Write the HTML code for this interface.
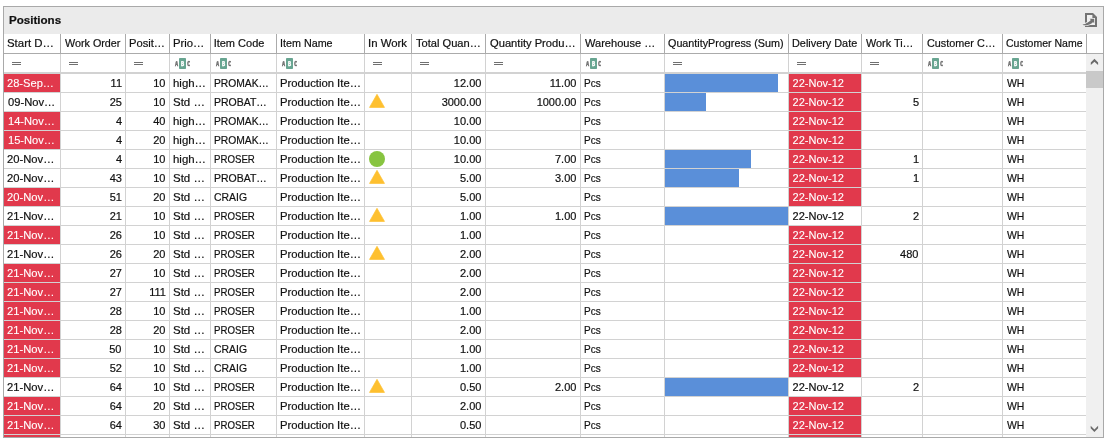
<!DOCTYPE html><html><head><meta charset="utf-8"><title>Positions</title><style>
html,body{margin:0;padding:0;background:#fff;}
body{width:1108px;height:440px;position:relative;overflow:hidden;font-family:"Liberation Sans",sans-serif;font-size:11px;color:#111;-webkit-text-stroke:0.2px currentColor;}
div{position:absolute;box-sizing:border-box;white-space:nowrap;}
.t{height:18px;line-height:18px;transform-origin:0 0;}
.h{height:19px;line-height:19px;top:34px;transform-origin:0 0;}
.r{text-align:right;}
.w{color:#fff;-webkit-text-stroke:0.1px #fff;}
svg{position:absolute;overflow:visible;}
</style></head><body>
<div style="left:3px;top:6px;width:1101px;height:432px;border:1px solid #a9a9a9;background:#fff"></div>
<div style="left:4px;top:7px;width:1099px;height:27px;background:#ebebeb"></div>
<div style="left:9.1px;top:12px;height:16px;line-height:16px;font-weight:bold;transform-origin:0 0;transform:scaleX(1.053)">Positions</div>
<svg style="left:1082px;top:12px" width="16" height="16" viewBox="0 0 16 16"><path d="M5 3H10.5V6H13V13H5Z" fill="#f1f1f1"/><path fill-rule="evenodd" d="M3 1H11L15 5V15H3Z M5 3H10.4V6.1H13V13H5Z" fill="#737373"/><path d="M0.7 12.5C4 11.9 7 10 8.9 7.9L7.6 6.8H12.2V11.5L11.1 10C9.4 12 6 13.8 0.7 13Z" fill="#737373" stroke="#f3f3f3" stroke-width="1.3" stroke-linejoin="round" paint-order="stroke"/></svg>
<div style="left:60px;top:34px;width:1px;height:19px;background:#ababab"></div>
<div style="left:125px;top:34px;width:1px;height:19px;background:#ababab"></div>
<div style="left:169px;top:34px;width:1px;height:19px;background:#ababab"></div>
<div style="left:210px;top:34px;width:1px;height:19px;background:#ababab"></div>
<div style="left:276px;top:34px;width:1px;height:19px;background:#ababab"></div>
<div style="left:364px;top:34px;width:1px;height:19px;background:#ababab"></div>
<div style="left:411px;top:34px;width:1px;height:19px;background:#ababab"></div>
<div style="left:485px;top:34px;width:1px;height:19px;background:#ababab"></div>
<div style="left:580px;top:34px;width:1px;height:19px;background:#ababab"></div>
<div style="left:664px;top:34px;width:1px;height:19px;background:#ababab"></div>
<div style="left:788px;top:34px;width:1px;height:19px;background:#ababab"></div>
<div style="left:861px;top:34px;width:1px;height:19px;background:#ababab"></div>
<div style="left:922px;top:34px;width:1px;height:19px;background:#ababab"></div>
<div style="left:1002px;top:34px;width:1px;height:19px;background:#ababab"></div>
<div style="left:1086px;top:34px;width:1px;height:19px;background:#ababab"></div>
<div style="left:4px;top:53px;width:1099px;height:1px;background:#ababab"></div>
<div class="h" style="left:6.75px;transform:scaleX(1.0379);">Start D…</div>
<div class="h" style="left:64.66px;transform:scaleX(0.9785);">Work Order</div>
<div class="h" style="left:128.60px;transform:scaleX(1.0162);">Posit…</div>
<div class="h" style="left:172.68px;transform:scaleX(1.0288);">Prio…</div>
<div class="h" style="left:213.64px;">Item Code</div>
<div class="h" style="left:279.52px;transform:scaleX(0.9779);">Item Name</div>
<div class="h" style="left:367.84px;transform:scaleX(1.0356);">In Work</div>
<div class="h" style="left:416.48px;transform:scaleX(1.0086);">Total Quan…</div>
<div class="h" style="left:489.59px;transform:scaleX(1.0146);">Quantity Produ…</div>
<div class="h" style="left:584.88px;transform:scaleX(1.0059);">Warehouse …</div>
<div class="h" style="left:668.43px;transform:scaleX(0.9792);">QuantityProgress (Sum)</div>
<div class="h" style="left:792.15px;transform:scaleX(0.9875);">Delivery Date</div>
<div class="h" style="left:866.35px;transform:scaleX(0.9874);">Work Ti…</div>
<div class="h" style="left:926.80px;transform:scaleX(0.9835);">Customer C…</div>
<div class="h" style="left:1006.20px;transform:scaleX(0.9550);">Customer Name</div>
<div style="left:12px;top:62px;width:9px;height:1px;background:#707070"></div><div style="left:12px;top:64px;width:9px;height:1px;background:#707070"></div>
<div style="left:69px;top:62px;width:9px;height:1px;background:#707070"></div><div style="left:69px;top:64px;width:9px;height:1px;background:#707070"></div>
<div style="left:134px;top:62px;width:9px;height:1px;background:#707070"></div><div style="left:134px;top:64px;width:9px;height:1px;background:#707070"></div>
<svg style="left:174px;top:58px" width="17" height="11" viewBox="0 0 17 11" font-family="DejaVu Sans Mono,Liberation Mono,monospace" font-size="6.7" font-weight="bold" stroke-width="0.45" stroke-linejoin="miter"><rect x="5" y="0" width="7" height="11" rx="0.8" fill="#68a591"/><text transform="translate(0.95 7.95) scale(0.78 1)" fill="#6e6e6e" stroke="#6e6e6e">A</text><text transform="translate(6.95 7.95) scale(0.78 1)" fill="#fff" stroke="#fff">B</text><text transform="translate(12.95 7.95) scale(0.78 1)" fill="#6e6e6e" stroke="#6e6e6e">C</text></svg>
<svg style="left:215px;top:58px" width="17" height="11" viewBox="0 0 17 11" font-family="DejaVu Sans Mono,Liberation Mono,monospace" font-size="6.7" font-weight="bold" stroke-width="0.45" stroke-linejoin="miter"><rect x="5" y="0" width="7" height="11" rx="0.8" fill="#68a591"/><text transform="translate(0.95 7.95) scale(0.78 1)" fill="#6e6e6e" stroke="#6e6e6e">A</text><text transform="translate(6.95 7.95) scale(0.78 1)" fill="#fff" stroke="#fff">B</text><text transform="translate(12.95 7.95) scale(0.78 1)" fill="#6e6e6e" stroke="#6e6e6e">C</text></svg>
<svg style="left:281px;top:58px" width="17" height="11" viewBox="0 0 17 11" font-family="DejaVu Sans Mono,Liberation Mono,monospace" font-size="6.7" font-weight="bold" stroke-width="0.45" stroke-linejoin="miter"><rect x="5" y="0" width="7" height="11" rx="0.8" fill="#68a591"/><text transform="translate(0.95 7.95) scale(0.78 1)" fill="#6e6e6e" stroke="#6e6e6e">A</text><text transform="translate(6.95 7.95) scale(0.78 1)" fill="#fff" stroke="#fff">B</text><text transform="translate(12.95 7.95) scale(0.78 1)" fill="#6e6e6e" stroke="#6e6e6e">C</text></svg>
<div style="left:373px;top:62px;width:9px;height:1px;background:#707070"></div><div style="left:373px;top:64px;width:9px;height:1px;background:#707070"></div>
<div style="left:420px;top:62px;width:9px;height:1px;background:#707070"></div><div style="left:420px;top:64px;width:9px;height:1px;background:#707070"></div>
<div style="left:494px;top:62px;width:9px;height:1px;background:#707070"></div><div style="left:494px;top:64px;width:9px;height:1px;background:#707070"></div>
<svg style="left:585px;top:58px" width="17" height="11" viewBox="0 0 17 11" font-family="DejaVu Sans Mono,Liberation Mono,monospace" font-size="6.7" font-weight="bold" stroke-width="0.45" stroke-linejoin="miter"><rect x="5" y="0" width="7" height="11" rx="0.8" fill="#68a591"/><text transform="translate(0.95 7.95) scale(0.78 1)" fill="#6e6e6e" stroke="#6e6e6e">A</text><text transform="translate(6.95 7.95) scale(0.78 1)" fill="#fff" stroke="#fff">B</text><text transform="translate(12.95 7.95) scale(0.78 1)" fill="#6e6e6e" stroke="#6e6e6e">C</text></svg>
<div style="left:673px;top:62px;width:9px;height:1px;background:#707070"></div><div style="left:673px;top:64px;width:9px;height:1px;background:#707070"></div>
<div style="left:797px;top:62px;width:9px;height:1px;background:#707070"></div><div style="left:797px;top:64px;width:9px;height:1px;background:#707070"></div>
<div style="left:870px;top:62px;width:9px;height:1px;background:#707070"></div><div style="left:870px;top:64px;width:9px;height:1px;background:#707070"></div>
<svg style="left:927px;top:58px" width="17" height="11" viewBox="0 0 17 11" font-family="DejaVu Sans Mono,Liberation Mono,monospace" font-size="6.7" font-weight="bold" stroke-width="0.45" stroke-linejoin="miter"><rect x="5" y="0" width="7" height="11" rx="0.8" fill="#68a591"/><text transform="translate(0.95 7.95) scale(0.78 1)" fill="#6e6e6e" stroke="#6e6e6e">A</text><text transform="translate(6.95 7.95) scale(0.78 1)" fill="#fff" stroke="#fff">B</text><text transform="translate(12.95 7.95) scale(0.78 1)" fill="#6e6e6e" stroke="#6e6e6e">C</text></svg>
<svg style="left:1007px;top:58px" width="17" height="11" viewBox="0 0 17 11" font-family="DejaVu Sans Mono,Liberation Mono,monospace" font-size="6.7" font-weight="bold" stroke-width="0.45" stroke-linejoin="miter"><rect x="5" y="0" width="7" height="11" rx="0.8" fill="#68a591"/><text transform="translate(0.95 7.95) scale(0.78 1)" fill="#6e6e6e" stroke="#6e6e6e">A</text><text transform="translate(6.95 7.95) scale(0.78 1)" fill="#fff" stroke="#fff">B</text><text transform="translate(12.95 7.95) scale(0.78 1)" fill="#6e6e6e" stroke="#6e6e6e">C</text></svg>
<div style="left:4px;top:72px;width:1082px;height:2px;background:#d2d2d2"></div>
<div style="left:60px;top:54px;width:1px;height:383px;background:#d2d2d2"></div>
<div style="left:125px;top:54px;width:1px;height:383px;background:#d2d2d2"></div>
<div style="left:169px;top:54px;width:1px;height:383px;background:#d2d2d2"></div>
<div style="left:210px;top:54px;width:1px;height:383px;background:#d2d2d2"></div>
<div style="left:276px;top:54px;width:1px;height:383px;background:#d2d2d2"></div>
<div style="left:364px;top:54px;width:1px;height:383px;background:#d2d2d2"></div>
<div style="left:411px;top:54px;width:1px;height:383px;background:#d2d2d2"></div>
<div style="left:485px;top:54px;width:1px;height:383px;background:#d2d2d2"></div>
<div style="left:580px;top:54px;width:1px;height:383px;background:#d2d2d2"></div>
<div style="left:664px;top:54px;width:1px;height:383px;background:#d2d2d2"></div>
<div style="left:788px;top:54px;width:1px;height:383px;background:#d2d2d2"></div>
<div style="left:861px;top:54px;width:1px;height:383px;background:#d2d2d2"></div>
<div style="left:922px;top:54px;width:1px;height:383px;background:#d2d2d2"></div>
<div style="left:1002px;top:54px;width:1px;height:383px;background:#d2d2d2"></div>
<div style="left:4px;top:92px;width:1082px;height:1px;background:#d2d2d2"></div>
<div style="left:4px;top:74px;width:56px;height:18px;background:#e1394c"></div>
<div style="left:789px;top:74px;width:72px;height:18px;background:#e1394c"></div>
<div style="left:665px;top:74px;width:113px;height:18px;background:#5a8fd9"></div>
<div class="t w" style="left:7.31px;transform:scaleX(1.0109);top:74px">28-Sep…</div>
<div class="t r" style="left:61px;top:74px;width:61px">11</div>
<div class="t r" style="left:126px;top:74px;width:39.4px">10</div>
<div class="t " style="left:172.73px;transform:scaleX(1.0387);top:74px">high…</div>
<div class="t " style="left:213.73px;transform:scaleX(0.9346);top:74px">PROMAK…</div>
<div class="t " style="left:280.05px;transform:scaleX(1.0263);top:74px">Production Ite…</div>
<div class="t r" style="left:412px;top:74px;width:69.4px">12.00</div>
<div class="t r" style="left:486px;top:74px;width:90.4px">11.00</div>
<div class="t " style="left:583.83px;transform:scaleX(0.9094);top:74px">Pcs</div>
<div class="t w" style="left:792.61px;top:74px">22-Nov-12</div>
<div class="t " style="left:1006.89px;transform:scaleX(0.9501);top:74px">WH</div>
<div style="left:4px;top:111px;width:1082px;height:1px;background:#d2d2d2"></div>
<div style="left:789px;top:93px;width:72px;height:18px;background:#e1394c"></div>
<div style="left:665px;top:93px;width:41px;height:18px;background:#5a8fd9"></div>
<div class="t " style="left:7.83px;transform:scaleX(1.0161);top:93px">09-Nov…</div>
<div class="t r" style="left:61px;top:93px;width:61px">25</div>
<div class="t r" style="left:126px;top:93px;width:39.4px">10</div>
<div class="t " style="left:172.76px;transform:scaleX(1.0433);top:93px">Std …</div>
<div class="t " style="left:213.68px;transform:scaleX(0.9526);top:93px">PROBAT…</div>
<div class="t " style="left:280.05px;transform:scaleX(1.0263);top:93px">Production Ite…</div>
<svg style="left:369px;top:94px" width="16" height="14" viewBox="0 0 16 14"><path d="M8 0.3L15.5 13.4H0.5Z" fill="#fec02f" stroke="#fec02f" stroke-width="0.7" stroke-linejoin="round"/></svg>
<div class="t r" style="left:412px;top:93px;width:69.4px">3000.00</div>
<div class="t r" style="left:486px;top:93px;width:90.4px">1000.00</div>
<div class="t " style="left:583.83px;transform:scaleX(0.9094);top:93px">Pcs</div>
<div class="t w" style="left:792.61px;top:93px">22-Nov-12</div>
<div class="t r" style="left:862px;top:93px;width:57px">5</div>
<div class="t " style="left:1006.89px;transform:scaleX(0.9501);top:93px">WH</div>
<div style="left:4px;top:130px;width:1082px;height:1px;background:#d2d2d2"></div>
<div style="left:4px;top:112px;width:56px;height:18px;background:#e1394c"></div>
<div style="left:789px;top:112px;width:72px;height:18px;background:#e1394c"></div>
<div class="t w" style="left:7.64px;transform:scaleX(1.0091);top:112px">14-Nov…</div>
<div class="t r" style="left:61px;top:112px;width:61px">4</div>
<div class="t r" style="left:126px;top:112px;width:39.4px">40</div>
<div class="t " style="left:172.73px;transform:scaleX(1.0387);top:112px">high…</div>
<div class="t " style="left:213.73px;transform:scaleX(0.9346);top:112px">PROMAK…</div>
<div class="t " style="left:280.05px;transform:scaleX(1.0263);top:112px">Production Ite…</div>
<div class="t r" style="left:412px;top:112px;width:69.4px">10.00</div>
<div class="t " style="left:583.83px;transform:scaleX(0.9094);top:112px">Pcs</div>
<div class="t w" style="left:792.61px;top:112px">22-Nov-12</div>
<div class="t " style="left:1006.89px;transform:scaleX(0.9501);top:112px">WH</div>
<div style="left:4px;top:149px;width:1082px;height:1px;background:#d2d2d2"></div>
<div style="left:4px;top:131px;width:56px;height:18px;background:#e1394c"></div>
<div style="left:789px;top:131px;width:72px;height:18px;background:#e1394c"></div>
<div class="t w" style="left:7.57px;transform:scaleX(1.0085);top:131px">15-Nov…</div>
<div class="t r" style="left:61px;top:131px;width:61px">4</div>
<div class="t r" style="left:126px;top:131px;width:39.4px">20</div>
<div class="t " style="left:172.73px;transform:scaleX(1.0387);top:131px">high…</div>
<div class="t " style="left:213.73px;transform:scaleX(0.9346);top:131px">PROMAK…</div>
<div class="t " style="left:280.05px;transform:scaleX(1.0263);top:131px">Production Ite…</div>
<div class="t r" style="left:412px;top:131px;width:69.4px">10.00</div>
<div class="t " style="left:583.83px;transform:scaleX(0.9094);top:131px">Pcs</div>
<div class="t w" style="left:792.61px;top:131px">22-Nov-12</div>
<div class="t " style="left:1006.89px;transform:scaleX(0.9501);top:131px">WH</div>
<div style="left:4px;top:168px;width:1082px;height:1px;background:#d2d2d2"></div>
<div style="left:789px;top:150px;width:72px;height:18px;background:#e1394c"></div>
<div style="left:665px;top:150px;width:86px;height:18px;background:#5a8fd9"></div>
<div class="t " style="left:7.12px;transform:scaleX(1.0194);top:150px">20-Nov…</div>
<div class="t r" style="left:61px;top:150px;width:61px">4</div>
<div class="t r" style="left:126px;top:150px;width:39.4px">10</div>
<div class="t " style="left:172.73px;transform:scaleX(1.0387);top:150px">high…</div>
<div class="t " style="left:213.91px;transform:scaleX(0.8786);top:150px">PROSER</div>
<div class="t " style="left:280.05px;transform:scaleX(1.0263);top:150px">Production Ite…</div>
<div style="left:369px;top:151px;width:16px;height:16px;border-radius:8px;background:#87c440"></div>
<div class="t r" style="left:412px;top:150px;width:69.4px">10.00</div>
<div class="t r" style="left:486px;top:150px;width:90.4px">7.00</div>
<div class="t " style="left:583.83px;transform:scaleX(0.9094);top:150px">Pcs</div>
<div class="t w" style="left:792.61px;top:150px">22-Nov-12</div>
<div class="t r" style="left:862px;top:150px;width:57px">1</div>
<div class="t " style="left:1006.89px;transform:scaleX(0.9501);top:150px">WH</div>
<div style="left:4px;top:187px;width:1082px;height:1px;background:#d2d2d2"></div>
<div style="left:789px;top:169px;width:72px;height:18px;background:#e1394c"></div>
<div style="left:665px;top:169px;width:74px;height:18px;background:#5a8fd9"></div>
<div class="t " style="left:7.12px;transform:scaleX(1.0194);top:169px">20-Nov…</div>
<div class="t r" style="left:61px;top:169px;width:61px">43</div>
<div class="t r" style="left:126px;top:169px;width:39.4px">10</div>
<div class="t " style="left:172.76px;transform:scaleX(1.0433);top:169px">Std …</div>
<div class="t " style="left:213.68px;transform:scaleX(0.9526);top:169px">PROBAT…</div>
<div class="t " style="left:280.05px;transform:scaleX(1.0263);top:169px">Production Ite…</div>
<svg style="left:369px;top:170px" width="16" height="14" viewBox="0 0 16 14"><path d="M8 0.3L15.5 13.4H0.5Z" fill="#fec02f" stroke="#fec02f" stroke-width="0.7" stroke-linejoin="round"/></svg>
<div class="t r" style="left:412px;top:169px;width:69.4px">5.00</div>
<div class="t r" style="left:486px;top:169px;width:90.4px">3.00</div>
<div class="t " style="left:583.83px;transform:scaleX(0.9094);top:169px">Pcs</div>
<div class="t w" style="left:792.61px;top:169px">22-Nov-12</div>
<div class="t r" style="left:862px;top:169px;width:57px">1</div>
<div class="t " style="left:1006.89px;transform:scaleX(0.9501);top:169px">WH</div>
<div style="left:4px;top:206px;width:1082px;height:1px;background:#d2d2d2"></div>
<div style="left:4px;top:188px;width:56px;height:18px;background:#e1394c"></div>
<div style="left:789px;top:188px;width:72px;height:18px;background:#e1394c"></div>
<div class="t w" style="left:7.12px;transform:scaleX(1.0194);top:188px">20-Nov…</div>
<div class="t r" style="left:61px;top:188px;width:61px">51</div>
<div class="t r" style="left:126px;top:188px;width:39.4px">20</div>
<div class="t " style="left:172.76px;transform:scaleX(1.0433);top:188px">Std …</div>
<div class="t " style="left:214.19px;transform:scaleX(0.9472);top:188px">CRAIG</div>
<div class="t " style="left:280.05px;transform:scaleX(1.0263);top:188px">Production Ite…</div>
<div class="t r" style="left:412px;top:188px;width:69.4px">5.00</div>
<div class="t " style="left:583.83px;transform:scaleX(0.9094);top:188px">Pcs</div>
<div class="t w" style="left:792.61px;top:188px">22-Nov-12</div>
<div class="t " style="left:1006.89px;transform:scaleX(0.9501);top:188px">WH</div>
<div style="left:4px;top:225px;width:1082px;height:1px;background:#d2d2d2"></div>
<div style="left:665px;top:207px;width:123px;height:18px;background:#5a8fd9"></div>
<div class="t " style="left:7.22px;transform:scaleX(1.0197);top:207px">21-Nov…</div>
<div class="t r" style="left:61px;top:207px;width:61px">21</div>
<div class="t r" style="left:126px;top:207px;width:39.4px">10</div>
<div class="t " style="left:172.76px;transform:scaleX(1.0433);top:207px">Std …</div>
<div class="t " style="left:213.91px;transform:scaleX(0.8786);top:207px">PROSER</div>
<div class="t " style="left:280.05px;transform:scaleX(1.0263);top:207px">Production Ite…</div>
<svg style="left:369px;top:208px" width="16" height="14" viewBox="0 0 16 14"><path d="M8 0.3L15.5 13.4H0.5Z" fill="#fec02f" stroke="#fec02f" stroke-width="0.7" stroke-linejoin="round"/></svg>
<div class="t r" style="left:412px;top:207px;width:69.4px">1.00</div>
<div class="t r" style="left:486px;top:207px;width:90.4px">1.00</div>
<div class="t " style="left:583.83px;transform:scaleX(0.9094);top:207px">Pcs</div>
<div class="t " style="left:792.61px;top:207px">22-Nov-12</div>
<div class="t r" style="left:862px;top:207px;width:57px">2</div>
<div class="t " style="left:1006.89px;transform:scaleX(0.9501);top:207px">WH</div>
<div style="left:4px;top:244px;width:1082px;height:1px;background:#d2d2d2"></div>
<div style="left:4px;top:226px;width:56px;height:18px;background:#e1394c"></div>
<div style="left:789px;top:226px;width:72px;height:18px;background:#e1394c"></div>
<div class="t w" style="left:7.22px;transform:scaleX(1.0197);top:226px">21-Nov…</div>
<div class="t r" style="left:61px;top:226px;width:61px">26</div>
<div class="t r" style="left:126px;top:226px;width:39.4px">10</div>
<div class="t " style="left:172.76px;transform:scaleX(1.0433);top:226px">Std …</div>
<div class="t " style="left:213.91px;transform:scaleX(0.8786);top:226px">PROSER</div>
<div class="t " style="left:280.05px;transform:scaleX(1.0263);top:226px">Production Ite…</div>
<div class="t r" style="left:412px;top:226px;width:69.4px">1.00</div>
<div class="t " style="left:583.83px;transform:scaleX(0.9094);top:226px">Pcs</div>
<div class="t w" style="left:792.61px;top:226px">22-Nov-12</div>
<div class="t " style="left:1006.89px;transform:scaleX(0.9501);top:226px">WH</div>
<div style="left:4px;top:263px;width:1082px;height:1px;background:#d2d2d2"></div>
<div style="left:789px;top:245px;width:72px;height:18px;background:#e1394c"></div>
<div class="t " style="left:7.22px;transform:scaleX(1.0197);top:245px">21-Nov…</div>
<div class="t r" style="left:61px;top:245px;width:61px">26</div>
<div class="t r" style="left:126px;top:245px;width:39.4px">20</div>
<div class="t " style="left:172.76px;transform:scaleX(1.0433);top:245px">Std …</div>
<div class="t " style="left:213.91px;transform:scaleX(0.8786);top:245px">PROSER</div>
<div class="t " style="left:280.05px;transform:scaleX(1.0263);top:245px">Production Ite…</div>
<svg style="left:369px;top:246px" width="16" height="14" viewBox="0 0 16 14"><path d="M8 0.3L15.5 13.4H0.5Z" fill="#fec02f" stroke="#fec02f" stroke-width="0.7" stroke-linejoin="round"/></svg>
<div class="t r" style="left:412px;top:245px;width:69.4px">2.00</div>
<div class="t " style="left:583.83px;transform:scaleX(0.9094);top:245px">Pcs</div>
<div class="t w" style="left:792.61px;top:245px">22-Nov-12</div>
<div class="t r" style="left:862px;top:245px;width:56.4px">480</div>
<div class="t " style="left:1006.89px;transform:scaleX(0.9501);top:245px">WH</div>
<div style="left:4px;top:282px;width:1082px;height:1px;background:#d2d2d2"></div>
<div style="left:4px;top:264px;width:56px;height:18px;background:#e1394c"></div>
<div style="left:789px;top:264px;width:72px;height:18px;background:#e1394c"></div>
<div class="t w" style="left:7.22px;transform:scaleX(1.0197);top:264px">21-Nov…</div>
<div class="t r" style="left:61px;top:264px;width:61px">27</div>
<div class="t r" style="left:126px;top:264px;width:39.4px">10</div>
<div class="t " style="left:172.76px;transform:scaleX(1.0433);top:264px">Std …</div>
<div class="t " style="left:213.91px;transform:scaleX(0.8786);top:264px">PROSER</div>
<div class="t " style="left:280.05px;transform:scaleX(1.0263);top:264px">Production Ite…</div>
<div class="t r" style="left:412px;top:264px;width:69.4px">2.00</div>
<div class="t " style="left:583.83px;transform:scaleX(0.9094);top:264px">Pcs</div>
<div class="t w" style="left:792.61px;top:264px">22-Nov-12</div>
<div class="t " style="left:1006.89px;transform:scaleX(0.9501);top:264px">WH</div>
<div style="left:4px;top:301px;width:1082px;height:1px;background:#d2d2d2"></div>
<div style="left:4px;top:283px;width:56px;height:18px;background:#e1394c"></div>
<div style="left:789px;top:283px;width:72px;height:18px;background:#e1394c"></div>
<div class="t w" style="left:7.22px;transform:scaleX(1.0197);top:283px">21-Nov…</div>
<div class="t r" style="left:61px;top:283px;width:61px">27</div>
<div class="t r" style="left:126px;top:283px;width:40px">111</div>
<div class="t " style="left:172.76px;transform:scaleX(1.0433);top:283px">Std …</div>
<div class="t " style="left:213.91px;transform:scaleX(0.8786);top:283px">PROSER</div>
<div class="t " style="left:280.05px;transform:scaleX(1.0263);top:283px">Production Ite…</div>
<div class="t r" style="left:412px;top:283px;width:69.4px">2.00</div>
<div class="t " style="left:583.83px;transform:scaleX(0.9094);top:283px">Pcs</div>
<div class="t w" style="left:792.61px;top:283px">22-Nov-12</div>
<div class="t " style="left:1006.89px;transform:scaleX(0.9501);top:283px">WH</div>
<div style="left:4px;top:320px;width:1082px;height:1px;background:#d2d2d2"></div>
<div style="left:4px;top:302px;width:56px;height:18px;background:#e1394c"></div>
<div style="left:789px;top:302px;width:72px;height:18px;background:#e1394c"></div>
<div class="t w" style="left:7.22px;transform:scaleX(1.0197);top:302px">21-Nov…</div>
<div class="t r" style="left:61px;top:302px;width:61px">28</div>
<div class="t r" style="left:126px;top:302px;width:39.4px">10</div>
<div class="t " style="left:172.76px;transform:scaleX(1.0433);top:302px">Std …</div>
<div class="t " style="left:213.91px;transform:scaleX(0.8786);top:302px">PROSER</div>
<div class="t " style="left:280.05px;transform:scaleX(1.0263);top:302px">Production Ite…</div>
<div class="t r" style="left:412px;top:302px;width:69.4px">1.00</div>
<div class="t " style="left:583.83px;transform:scaleX(0.9094);top:302px">Pcs</div>
<div class="t w" style="left:792.61px;top:302px">22-Nov-12</div>
<div class="t " style="left:1006.89px;transform:scaleX(0.9501);top:302px">WH</div>
<div style="left:4px;top:339px;width:1082px;height:1px;background:#d2d2d2"></div>
<div style="left:4px;top:321px;width:56px;height:18px;background:#e1394c"></div>
<div style="left:789px;top:321px;width:72px;height:18px;background:#e1394c"></div>
<div class="t w" style="left:7.22px;transform:scaleX(1.0197);top:321px">21-Nov…</div>
<div class="t r" style="left:61px;top:321px;width:61px">28</div>
<div class="t r" style="left:126px;top:321px;width:39.4px">20</div>
<div class="t " style="left:172.76px;transform:scaleX(1.0433);top:321px">Std …</div>
<div class="t " style="left:213.91px;transform:scaleX(0.8786);top:321px">PROSER</div>
<div class="t " style="left:280.05px;transform:scaleX(1.0263);top:321px">Production Ite…</div>
<div class="t r" style="left:412px;top:321px;width:69.4px">2.00</div>
<div class="t " style="left:583.83px;transform:scaleX(0.9094);top:321px">Pcs</div>
<div class="t w" style="left:792.61px;top:321px">22-Nov-12</div>
<div class="t " style="left:1006.89px;transform:scaleX(0.9501);top:321px">WH</div>
<div style="left:4px;top:358px;width:1082px;height:1px;background:#d2d2d2"></div>
<div style="left:4px;top:340px;width:56px;height:18px;background:#e1394c"></div>
<div style="left:789px;top:340px;width:72px;height:18px;background:#e1394c"></div>
<div class="t w" style="left:7.22px;transform:scaleX(1.0197);top:340px">21-Nov…</div>
<div class="t r" style="left:61px;top:340px;width:60.4px">50</div>
<div class="t r" style="left:126px;top:340px;width:39.4px">10</div>
<div class="t " style="left:172.76px;transform:scaleX(1.0433);top:340px">Std …</div>
<div class="t " style="left:214.19px;transform:scaleX(0.9472);top:340px">CRAIG</div>
<div class="t " style="left:280.05px;transform:scaleX(1.0263);top:340px">Production Ite…</div>
<div class="t r" style="left:412px;top:340px;width:69.4px">1.00</div>
<div class="t " style="left:583.83px;transform:scaleX(0.9094);top:340px">Pcs</div>
<div class="t w" style="left:792.61px;top:340px">22-Nov-12</div>
<div class="t " style="left:1006.89px;transform:scaleX(0.9501);top:340px">WH</div>
<div style="left:4px;top:377px;width:1082px;height:1px;background:#d2d2d2"></div>
<div style="left:4px;top:359px;width:56px;height:18px;background:#e1394c"></div>
<div style="left:789px;top:359px;width:72px;height:18px;background:#e1394c"></div>
<div class="t w" style="left:7.22px;transform:scaleX(1.0197);top:359px">21-Nov…</div>
<div class="t r" style="left:61px;top:359px;width:61px">52</div>
<div class="t r" style="left:126px;top:359px;width:39.4px">10</div>
<div class="t " style="left:172.76px;transform:scaleX(1.0433);top:359px">Std …</div>
<div class="t " style="left:214.19px;transform:scaleX(0.9472);top:359px">CRAIG</div>
<div class="t " style="left:280.05px;transform:scaleX(1.0263);top:359px">Production Ite…</div>
<div class="t r" style="left:412px;top:359px;width:69.4px">1.00</div>
<div class="t " style="left:583.83px;transform:scaleX(0.9094);top:359px">Pcs</div>
<div class="t w" style="left:792.61px;top:359px">22-Nov-12</div>
<div class="t " style="left:1006.89px;transform:scaleX(0.9501);top:359px">WH</div>
<div style="left:4px;top:396px;width:1082px;height:1px;background:#d2d2d2"></div>
<div style="left:665px;top:378px;width:123px;height:18px;background:#5a8fd9"></div>
<div class="t " style="left:7.22px;transform:scaleX(1.0197);top:378px">21-Nov…</div>
<div class="t r" style="left:61px;top:378px;width:61px">64</div>
<div class="t r" style="left:126px;top:378px;width:39.4px">10</div>
<div class="t " style="left:172.76px;transform:scaleX(1.0433);top:378px">Std …</div>
<div class="t " style="left:213.91px;transform:scaleX(0.8786);top:378px">PROSER</div>
<div class="t " style="left:280.05px;transform:scaleX(1.0263);top:378px">Production Ite…</div>
<svg style="left:369px;top:379px" width="16" height="14" viewBox="0 0 16 14"><path d="M8 0.3L15.5 13.4H0.5Z" fill="#fec02f" stroke="#fec02f" stroke-width="0.7" stroke-linejoin="round"/></svg>
<div class="t r" style="left:412px;top:378px;width:69.4px">0.50</div>
<div class="t r" style="left:486px;top:378px;width:90.4px">2.00</div>
<div class="t " style="left:583.83px;transform:scaleX(0.9094);top:378px">Pcs</div>
<div class="t " style="left:792.61px;top:378px">22-Nov-12</div>
<div class="t r" style="left:862px;top:378px;width:57px">2</div>
<div class="t " style="left:1006.89px;transform:scaleX(0.9501);top:378px">WH</div>
<div style="left:4px;top:415px;width:1082px;height:1px;background:#d2d2d2"></div>
<div style="left:4px;top:397px;width:56px;height:18px;background:#e1394c"></div>
<div style="left:789px;top:397px;width:72px;height:18px;background:#e1394c"></div>
<div class="t w" style="left:7.22px;transform:scaleX(1.0197);top:397px">21-Nov…</div>
<div class="t r" style="left:61px;top:397px;width:61px">64</div>
<div class="t r" style="left:126px;top:397px;width:39.4px">20</div>
<div class="t " style="left:172.76px;transform:scaleX(1.0433);top:397px">Std …</div>
<div class="t " style="left:213.91px;transform:scaleX(0.8786);top:397px">PROSER</div>
<div class="t " style="left:280.05px;transform:scaleX(1.0263);top:397px">Production Ite…</div>
<div class="t r" style="left:412px;top:397px;width:69.4px">2.00</div>
<div class="t " style="left:583.83px;transform:scaleX(0.9094);top:397px">Pcs</div>
<div class="t w" style="left:792.61px;top:397px">22-Nov-12</div>
<div class="t " style="left:1006.89px;transform:scaleX(0.9501);top:397px">WH</div>
<div style="left:4px;top:434px;width:1082px;height:1px;background:#d2d2d2"></div>
<div style="left:4px;top:416px;width:56px;height:18px;background:#e1394c"></div>
<div style="left:789px;top:416px;width:72px;height:18px;background:#e1394c"></div>
<div class="t w" style="left:7.22px;transform:scaleX(1.0197);top:416px">21-Nov…</div>
<div class="t r" style="left:61px;top:416px;width:61px">64</div>
<div class="t r" style="left:126px;top:416px;width:39.4px">30</div>
<div class="t " style="left:172.76px;transform:scaleX(1.0433);top:416px">Std …</div>
<div class="t " style="left:213.91px;transform:scaleX(0.8786);top:416px">PROSER</div>
<div class="t " style="left:280.05px;transform:scaleX(1.0263);top:416px">Production Ite…</div>
<div class="t r" style="left:412px;top:416px;width:69.4px">0.50</div>
<div class="t " style="left:583.83px;transform:scaleX(0.9094);top:416px">Pcs</div>
<div class="t w" style="left:792.61px;top:416px">22-Nov-12</div>
<div class="t " style="left:1006.89px;transform:scaleX(0.9501);top:416px">WH</div>
<div style="left:4px;top:435px;width:56px;height:2px;background:#e1394c"></div>
<div style="left:789px;top:435px;width:72px;height:2px;background:#e1394c"></div>
<div style="left:1086px;top:54px;width:17px;height:383px;background:#f0f0f0"></div>
<div style="left:1086px;top:71px;width:17px;height:17px;background:#c9c9c9"></div>
<svg style="left:1086px;top:54px" width="17" height="17" viewBox="0 0 17 17"><path d="M8.45 4.8L12.1 8.4V11.1L8.45 7.7L4.8 11.1V8.4Z" fill="#6a6a6a"/></svg>
<svg style="left:1086px;top:419px" width="17" height="17" viewBox="0 0 17 17"><path d="M4.7 6.7L8.4 10.5L12.1 6.7V9.3L8.4 13.1L4.7 9.3Z" fill="#6a6a6a"/></svg>
</body></html>
